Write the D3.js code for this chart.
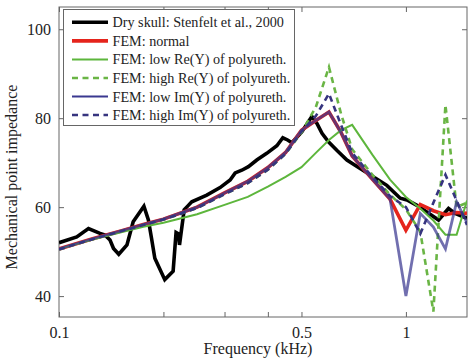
<!DOCTYPE html>
<html><head><meta charset="utf-8">
<script src="https://cdn.jsdelivr.net/npm/d3@7"></script>
<style>body{margin:0;background:#fff}svg{display:block}</style>
</head><body>
<script>
// ---- data ----
const skullFreq = [0.1,0.1125,0.1216,0.1313,0.1358,0.1403,0.1436,0.1487,0.157,0.1636,0.1757,0.181,0.1848,0.1889,0.2018,0.2133,0.2175,0.221,0.2225,0.2295,0.236,0.2414,0.2667,0.2913,0.3114,0.322,0.3365,0.3516,0.3716,0.397,0.4246,0.4418,0.456,0.469,0.501,0.5357,0.554,0.573,0.598,0.632,0.676,0.738,0.807,0.881,0.963,1.007,1.076,1.242,1.327,1.387,1.5];
const skullVal  = [52.0,53.3,55.2,54.1,53.7,52.6,50.7,49.4,51.5,56.7,60.2,57.1,53.0,48.5,43.7,45.6,54.3,54.0,51.5,59.4,60.4,61.2,62.7,64.4,66.1,67.7,68.3,69.1,70.6,72.1,73.8,75.6,75.1,74.5,76.9,80.4,78.8,76.6,74.7,72.8,70.6,68.7,66.8,64.9,62.0,61.6,60.4,57.1,59.7,58.6,57.5];
const femFreq   = [0.1,0.125,0.15,0.175,0.2,0.25,0.3,0.35,0.4,0.45,0.5,0.55,0.6,0.65,0.7,0.8,0.9,1.0,1.1,1.2,1.3,1.4,1.5];
const femNormal = [50.6,52.9,54.6,56.1,57.3,60.0,63.2,65.8,68.9,72.3,77.3,79.5,81.4,76.8,71.5,66.3,61.8,54.8,60.6,59.2,58.3,58.8,58.6];
const lowRe     = [50.6,52.7,54.3,55.6,56.5,58.4,60.5,62.3,64.6,66.8,69.0,72.2,75.1,77.3,78.5,71.8,66.2,62.3,59.7,57.0,53.8,53.8,61.5];
const highRe    = [50.5,52.8,54.5,56.0,57.2,59.8,62.9,65.4,68.4,72.0,76.8,82.5,91.5,81.0,73.0,67.3,62.8,59.5,54.5,36.5,83.0,60.0,61.0];
const lowIm     = [50.6,52.9,54.6,56.1,57.3,60.0,63.2,65.8,68.9,72.3,77.3,79.5,81.4,76.8,71.5,66.3,61.8,40.0,58.6,55.5,50.6,61.2,56.5];
const highIm    = [50.5,52.8,54.5,56.0,57.2,59.8,62.9,65.4,68.4,72.0,77.0,80.5,85.5,78.5,72.2,66.8,62.5,60.0,54.0,61.0,67.3,61.5,56.0];
const legendLabels = ["Dry skull: Stenfelt et al., 2000","FEM: normal","FEM: low Re(Y) of polyureth.","FEM: high Re(Y) of polyureth.","FEM: low Im(Y) of polyureth.","FEM: high Im(Y) of polyureth."];
const xTicks = [0.1,0.2,0.3,0.4,0.5,1];
const xTickLabels = ["0.1","","","","0.5","1"];
const yTicks = [40,60,80,100];
const xTitle = "Frequency (kHz)";
const yTitle = "Mechanical point impedance";

// ---- layout ----
const W = 474, H = 358;
const L = 59, R = 467, T = 7, B = 317;
const svg = d3.select("body").append("svg").attr("width", W).attr("height", H);
const x = d3.scaleLog().domain([0.1, 1.5]).range([L, R]);
const y = d3.scaleLinear().domain([35.3, 105]).range([B, T]);
const font = "'Liberation Serif','Times New Roman',serif";

svg.append("defs").append("clipPath").attr("id","clip")
  .append("rect").attr("x",L).attr("y",T).attr("width",R-L).attr("height",B-T);

const axisCol = "#666";
const gB = svg.append("g").attr("transform",`translate(0,${B})`)
  .call(d3.axisBottom(x).tickValues(xTicks).tickSize(-5).tickPadding(10).tickFormat((d,i)=>xTickLabels[i]));
const gT = svg.append("g").attr("transform",`translate(0,${T})`)
  .call(d3.axisTop(x).tickValues(xTicks).tickSize(-5).tickFormat(""));
const gL = svg.append("g").attr("transform",`translate(${L},0)`)
  .call(d3.axisLeft(y).tickValues(yTicks).tickSize(-5).tickPadding(8));
const gR = svg.append("g").attr("transform",`translate(${R},0)`)
  .call(d3.axisRight(y).tickValues(yTicks).tickSize(-5).tickFormat(""));
[gB,gT,gL,gR].forEach(g=>{
  g.select(".domain").remove();
  g.selectAll(".tick line").attr("stroke",axisCol).attr("stroke-width",1);
  g.selectAll("text").attr("font-family",font).attr("font-size",16).attr("fill","#222");
});
svg.append("rect").attr("x",L).attr("y",T).attr("width",R-L).attr("height",B-T)
  .attr("fill","none").attr("stroke",axisCol).attr("stroke-width",1);

const series = [
  {f:skullFreq, v:skullVal, color:"#000", w:3.6, dash:null, op:1},
  {f:femFreq, v:femNormal, color:"#e5241c", w:3.6, dash:null, op:1},
  {f:femFreq, v:lowRe, color:"#5db63c", w:2, dash:null, op:1},
  {f:femFreq, v:highRe, color:"#6ab545", w:2.6, dash:"6,4.5", op:1},
  {f:femFreq, v:lowIm, color:"#3a3890", w:2.8, dash:null, op:0.72},
  {f:femFreq, v:highIm, color:"#36347f", w:2.6, dash:"6,4.5", op:1}
];
const line = d3.line().x(d=>x(d[0])).y(d=>y(d[1]));
const gp = svg.append("g").attr("clip-path","url(#clip)");
series.forEach(s=>{
  gp.append("path").datum(s.f.map((f,i)=>[f,s.v[i]]))
    .attr("d",line).attr("fill","none").attr("stroke",s.color)
    .attr("stroke-width",s.w).attr("stroke-dasharray",s.dash)
    .attr("stroke-opacity",s.op).attr("stroke-linejoin","miter");
});

const lg = svg.append("g");
lg.append("rect").attr("x",63.5).attr("y",9.5).attr("width",231).attr("height",116)
  .attr("fill","#fff").attr("stroke",axisCol).attr("stroke-width",1);
series.forEach((s,i)=>{
  const yy = 22.3 + i*18.55;
  lg.append("line").attr("x1",72).attr("x2",108).attr("y1",yy).attr("y2",yy)
    .attr("stroke",s.color).attr("stroke-width",i===4?2.2:s.w).attr("stroke-dasharray",s.dash);
  lg.append("text").attr("x",112.5).attr("y",yy+5).text(legendLabels[i])
    .attr("font-family",font).attr("font-size",14.2).attr("fill","#222");
});

svg.append("text").attr("x",258).attr("y",354).attr("text-anchor","middle")
  .attr("font-family",font).attr("font-size",16).attr("fill","#222").text(xTitle);
svg.append("text").attr("transform","translate(17,177) rotate(-90)").attr("text-anchor","middle")
  .attr("font-family",font).attr("font-size",16).attr("fill","#222").text(yTitle);
</script>
</body></html>
